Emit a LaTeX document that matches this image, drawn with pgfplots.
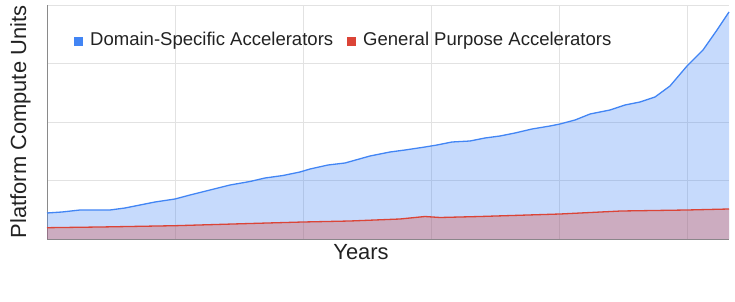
\documentclass[border=0pt]{standalone}
\usepackage{fontspec}
\setmainfont{Liberation Sans}
\usepackage{pgfplots}
\pgfplotsset{compat=1.18}
\definecolor{gblue}{HTML}{4285F4}
\definecolor{gred}{HTML}{DB4437}
\definecolor{gridc}{HTML}{E2E2E2}
\definecolor{axc}{HTML}{8A8A8A}
\definecolor{txt}{HTML}{222222}
\begin{document}
\begin{tikzpicture}
\useasboundingbox (0,0) rectangle (735bp,302bp);
\begin{axis}[
  at={(47bp,63bp)}, anchor=south west,
  scale only axis, width=682bp, height=234bp,
  xmin=47, xmax=729, ymin=0, ymax=234,
  xtick={175,303,431,559,687}, ytick={0,58.5,117,175.5,234},
  xticklabels={}, yticklabels={},
  major tick length=0pt,
  grid=major, grid style={draw=gridc, line width=0.9bp},
  axis x line=bottom, axis y line=left,
  axis line style={draw=axc, line width=1bp, -},
  clip=false,
]
\addplot[draw=none, fill=gblue, fill opacity=0.3] coordinates {
(47,26) (62,27) (80,29) (95,29) (110,29) (125,31) (140,34) (155,37) (175,40) (190,44)
(210,49) (230,54) (250,57.5) (265,61) (283,63.5) (300,67) (310,70) (328,74) (345,76)
(370,83) (390,87) (405,89) (425,92) (437,94) (452,97) (470,98) (485,101) (500,103)
(515,106) (532,110) (550,113) (560,115) (575,119) (590,125) (610,129) (625,134)
(640,137) (655,142) (670,153) (687,173) (703,189) (717,209) (729,227)
} \closedcycle;
\addplot[draw=none, fill=gred, fill opacity=0.3] coordinates {
(47,11.3) (100,12) (175,13.3) (250,15.5) (303,17) (350,18) (400,20) (420,22)
(425,22.5) (440,21.5) (480,22.5) (560,25) (621,28) (687,29) (729,30)
} \closedcycle;
\addplot[gblue, line width=1.3bp] coordinates {
(47,26) (62,27) (80,29) (95,29) (110,29) (125,31) (140,34) (155,37) (175,40) (190,44)
(210,49) (230,54) (250,57.5) (265,61) (283,63.5) (300,67) (310,70) (328,74) (345,76)
(370,83) (390,87) (405,89) (425,92) (437,94) (452,97) (470,98) (485,101) (500,103)
(515,106) (532,110) (550,113) (560,115) (575,119) (590,125) (610,129) (625,134)
(640,137) (655,142) (670,153) (687,173) (703,189) (717,209) (729,227)
};
\addplot[gred, line width=1.3bp] coordinates {
(47,11.3) (100,12) (175,13.3) (250,15.5) (303,17) (350,18) (400,20) (420,22)
(425,22.5) (440,21.5) (480,22.5) (560,25) (621,28) (687,29) (729,30)
};
\end{axis}
\fill[gblue] (74bp,256bp) rectangle (83bp,265bp);
\node[anchor=base west, inner sep=0pt, text=txt, font=\fontsize{18.6}{20}\selectfont] at (90bp,256bp) {Domain-Specific Accelerators};
\fill[gred] (347bp,256bp) rectangle (356bp,265bp);
\node[anchor=base west, inner sep=0pt, text=txt, font=\fontsize{18.6}{20}\selectfont] at (363bp,256bp) {General Purpose Accelerators};
\node[anchor=base, inner sep=0pt, text=txt, font=\fontsize{22}{24}\selectfont] at (361bp,42bp) {Years};
\node[anchor=base, rotate=90, inner sep=0pt, text=txt, font=\fontsize{22}{24}\selectfont] at (26bp,180bp) {Platform Compute Units};
\end{tikzpicture}
\end{document}
